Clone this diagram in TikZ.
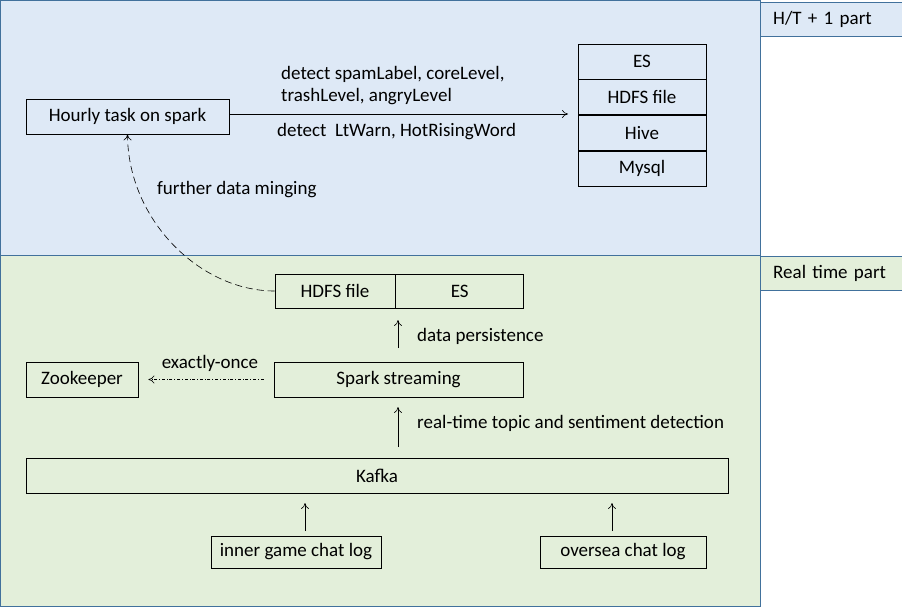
\documentclass[tikz,border=0pt]{standalone}
\usepackage{fontspec}
\setmainfont{Carlito}
\usetikzlibrary{arrows.meta,positioning}
\definecolor{topblue}{RGB}{222,233,246}
\definecolor{lowgreen}{RGB}{227,239,218}
\definecolor{edgeblue}{RGB}{65,113,156}
\begin{document}
\begin{tikzpicture}[x=1pt,y=-1pt,font=\fontsize{19}{22}\selectfont]
\tikzstyle{box}=[rectangle, draw=black, thick, inner sep=0pt]
\tikzstyle{connect}=[-{To[length=6pt,width=8pt]}, semithick]
\tikzstyle{lbl}=[anchor=west, inner sep=0pt, align=left]
\tikzstyle{part}=[draw=edgeblue, minimum width=142pt, minimum height=34pt, anchor=north west, inner sep=0pt, text width=132pt, align=left]
\useasboundingbox (0,0) rectangle (902,607);
% regions
\draw[edgeblue, fill=topblue] (0.5,0.5) rectangle (760,255);
\draw[edgeblue, fill=lowgreen] (0.5,255) rectangle (760,606.5);
\node[part, fill=topblue] (htpart) at (760,2) {\hspace*{8pt}H/T + 1 part};
\node[part, fill=lowgreen] (rtpart) at (760,256) {\hspace*{8pt}Real time part};
% hourly part
\node[box, minimum width=203pt, minimum height=35pt] (hourly) at (127.5,116.5) {Hourly task on spark};
\node[box, minimum width=128pt, minimum height=35pt] (es) at (642,61.5) {ES};
\node[box, minimum width=128pt, minimum height=35pt, below=0pt of es] (hdfs) {HDFS file};
\node[box, minimum width=128pt, minimum height=35pt, below=0pt of hdfs] (hive) {Hive};
\node[box, minimum width=128pt, minimum height=35pt, below=0pt of hive] (mysql) {Mysql};
\coordinate (stackin) at (568,114);
\draw[connect] (hourly.east |- stackin) -- (stackin);
\node[lbl] (detA) at (281,74) {detect spamLabel, coreLevel,};
\node[lbl] (detB) at (281,97) {trashLevel, angryLevel};
\node[lbl] (detC) at (277,132) {detect\ \ LtWarn, HotRisingWord};
% real time part
\node[box, minimum width=120pt, minimum height=34pt] (rhdfs) at (335,291) {HDFS file};
\node[box, minimum width=128pt, minimum height=34pt, right=0pt of rhdfs] (res) {ES};
\node[box, minimum width=249pt, minimum height=35pt] (spark) at (398.5,379.5) {Spark streaming};
\node[box, minimum width=112pt, minimum height=35pt] (zoo) at (82,379.5) {Zookeeper};
\node[box, minimum width=702pt, minimum height=35pt] (kafka) at (377,475.5) {Kafka};
\node[box, minimum width=170pt, minimum height=32pt] (inner) at (296,552) {inner game chat log};
\node[box, minimum width=166pt, minimum height=32pt] (oversea) at (623,552) {oversea chat log};
\draw[connect, dash pattern=on 7pt off 4pt] (rhdfs.west) .. controls (200,291) and (128,220) .. (hourly.south);
\node[lbl] (further) at (157,190) {further data minging};
\draw[connect, dash dot] ([xshift=-10pt]spark.west) -- ([xshift=10pt]zoo.east);
\node (once) at (210,363) {exactly-once};
\coordinate (persA) at (398,348);
\coordinate (persB) at (398,320);
\draw[connect] (persA) -- (persB);
\node[lbl] (persist) at (417,336) {data persistence};
\coordinate (detA1) at (398,447);
\coordinate (detA2) at (398,407);
\draw[connect] (detA1) -- (detA2);
\node[lbl] (rtdet) at (417,423) {real-time topic and sentiment detection};
\coordinate (inA) at (305,531);
\coordinate (inB) at (305,503);
\draw[connect] (inA) -- (inB);
\coordinate (ovA) at (612,531);
\coordinate (ovB) at (612,503);
\draw[connect] (ovA) -- (ovB);
\end{tikzpicture}
\end{document}
